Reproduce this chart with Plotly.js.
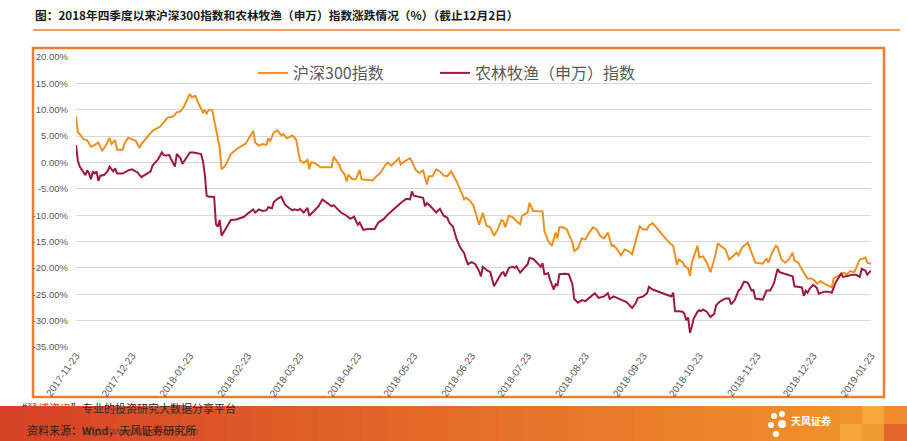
<!DOCTYPE html>
<html>
<head>
<meta charset="utf-8">
<script src="https://cdn.plot.ly/plotly-3.0.1.min.js"></script>
<style>
html,body{margin:0;padding:0;background:#ffffff;}
#chart{width:907px;height:441px;}
</style>
</head>
<body>
<div id="chart"></div>
<script>
// ---------------- DATA ----------------
const seriesNames = ['沪深300指数', '农林牧渔（申万）指数'];

const hsDates = ['2017-11-23','2017-11-24','2017-11-25','2017-11-27','2017-11-29','2017-12-01','2017-12-03','2017-12-05','2017-12-07','2017-12-09','2017-12-11','2017-12-12','2017-12-14','2017-12-15','2017-12-18','2017-12-19','2017-12-21','2017-12-23','2017-12-25','2017-12-27','2017-12-28',
'2018-01-03','2018-01-07','2018-01-09','2018-01-11','2018-01-14','2018-01-16','2018-01-18','2018-01-20','2018-01-23','2018-01-24','2018-01-26','2018-01-27','2018-01-30','2018-01-31',
'2018-02-01','2018-02-02','2018-02-04','2018-02-07','2018-02-08','2018-02-09','2018-02-11','2018-02-14','2018-02-17','2018-02-22','2018-02-26','2018-02-27',
'2018-03-01','2018-03-03','2018-03-05','2018-03-06','2018-03-07','2018-03-09','2018-03-11','2018-03-13','2018-03-14','2018-03-16','2018-03-17','2018-03-19','2018-03-21','2018-03-23','2018-03-25','2018-03-27','2018-03-28','2018-03-29','2018-03-31',
'2018-04-03','2018-04-09','2018-04-10','2018-04-13','2018-04-14','2018-04-16','2018-04-17','2018-04-18','2018-04-20','2018-04-22','2018-04-24','2018-04-25',
'2018-05-01','2018-05-03','2018-05-05','2018-05-08','2018-05-09','2018-05-11','2018-05-15','2018-05-16','2018-05-18','2018-05-21','2018-05-22','2018-05-24','2018-05-26','2018-05-28','2018-05-30','2018-05-31',
'2018-06-02','2018-06-04','2018-06-06','2018-06-08','2018-06-10','2018-06-12','2018-06-15','2018-06-18','2018-06-19','2018-06-20','2018-06-22','2018-06-24','2018-06-27','2018-06-29',
'2018-07-01','2018-07-03','2018-07-05','2018-07-07','2018-07-09','2018-07-10','2018-07-11','2018-07-13','2018-07-15','2018-07-17','2018-07-19','2018-07-20','2018-07-23','2018-07-24','2018-07-26','2018-07-31',
'2018-08-01','2018-08-03','2018-08-05','2018-08-07','2018-08-08','2018-08-09','2018-08-11','2018-08-13','2018-08-15','2018-08-16','2018-08-17','2018-08-19','2018-08-21','2018-08-23','2018-08-25','2018-08-27','2018-08-29','2018-08-31',
'2018-09-02','2018-09-04','2018-09-06','2018-09-07','2018-09-09','2018-09-11','2018-09-13','2018-09-15','2018-09-17','2018-09-19','2018-09-21','2018-09-23','2018-09-25','2018-09-26','2018-09-28',
'2018-10-07','2018-10-09','2018-10-11','2018-10-12','2018-10-14','2018-10-15','2018-10-17','2018-10-18','2018-10-19','2018-10-20','2018-10-22','2018-10-23','2018-10-25','2018-10-27','2018-10-29','2018-10-30','2018-10-31',
'2018-11-02','2018-11-03','2018-11-06','2018-11-08','2018-11-10','2018-11-12','2018-11-13','2018-11-15','2018-11-17','2018-11-18','2018-11-20','2018-11-22','2018-11-26','2018-11-28','2018-11-29',
'2018-12-01','2018-12-03','2018-12-04','2018-12-06','2018-12-08','2018-12-10','2018-12-12','2018-12-13','2018-12-15','2018-12-17','2018-12-19','2018-12-20','2018-12-22','2018-12-24','2018-12-25','2018-12-27','2018-12-28','2018-12-30',
'2019-01-01','2019-01-02','2019-01-03','2019-01-05','2019-01-06','2019-01-08','2019-01-10','2019-01-12','2019-01-14','2019-01-15','2019-01-17','2019-01-19','2019-01-20','2019-01-21','2019-01-23'];

const hsValues = [8.8,5.7,5.4,4.4,4.2,3.0,3.3,3.8,2.2,3.2,4.7,3.5,4.2,2.4,2.4,3.6,4.7,4.4,4.1,2.8,3.5,
6.0,6.8,7.6,8.5,8.7,9.5,9.7,10.7,13.0,12.4,12.6,11.7,9.5,9.9,
9.3,9.9,9.9,4.1,2.8,-1.3,-0.6,1.6,2.5,3.6,6.0,3.8,
3.2,3.5,3.3,4.6,4.0,5.7,6.1,5.1,5.4,4.6,4.8,5.1,4.3,0.4,-0.1,0.5,-1.3,0.0,-0.1,
-0.9,-0.9,1.1,-0.4,-1.4,-2.3,-3.6,-2.3,-3.2,-3.2,-1.4,-3.2,
-3.4,-2.6,-2.0,-0.4,0.0,-0.6,0.8,-0.4,0.2,0.8,0.2,-1.4,-2.0,-1.5,-4.2,-2.6,
-2.6,-1.3,-1.7,-2.5,-2.6,-1.7,-3.6,-6.1,-7.0,-6.7,-7.2,-8.2,-11.8,-9.6,
-12.0,-12.3,-13.9,-12.7,-10.9,-11.1,-12.3,-10.1,-10.4,-11.1,-11.7,-10.1,-9.5,-7.7,-9.2,-9.3,
-13.0,-14.9,-15.8,-13.3,-14.4,-12.3,-12.3,-12.7,-14.2,-15.2,-16.8,-16.3,-14.4,-14.6,-13.3,-12.3,-12.7,-14.0,
-14.4,-13.3,-15.8,-15.7,-16.5,-17.6,-16.5,-16.8,-17.4,-14.6,-12.1,-12.7,-12.7,-12.0,-11.5,
-15.3,-15.8,-19.4,-18.4,-18.9,-19.6,-20.1,-21.5,-19.0,-18.0,-15.8,-18.0,-17.8,-19.0,-20.8,-19.6,-18.4,
-15.3,-15.7,-16.5,-18.4,-17.8,-17.1,-17.6,-16.1,-15.5,-15.2,-17.1,-19.0,-19.2,-18.2,-19.0,
-17.1,-15.8,-16.1,-18.4,-19.0,-18.4,-17.1,-18.6,-19.0,-20.3,-21.4,-22.0,-22.0,-22.5,-23.0,-22.5,-22.8,-23.1,
-23.4,-23.7,-22.0,-21.7,-21.4,-20.9,-21.2,-20.6,-20.8,-20.1,-18.4,-18.2,-18.0,-19.0,-19.2];

const nlDates = ['2017-11-23','2017-11-24','2017-11-25','2017-11-27','2017-11-28','2017-11-29','2017-11-30','2017-12-01','2017-12-02','2017-12-03','2017-12-04','2017-12-05','2017-12-06','2017-12-08','2017-12-10','2017-12-11','2017-12-13','2017-12-14','2017-12-15','2017-12-18','2017-12-21','2017-12-23','2017-12-25','2017-12-26','2017-12-28','2017-12-30',
'2018-01-02','2018-01-03','2018-01-06','2018-01-08','2018-01-09','2018-01-10','2018-01-12','2018-01-13','2018-01-15','2018-01-16','2018-01-18','2018-01-19','2018-01-20','2018-01-23','2018-01-25','2018-01-27','2018-01-29','2018-01-30','2018-01-31',
'2018-02-01','2018-02-02','2018-02-05','2018-02-06','2018-02-07','2018-02-08','2018-02-09','2018-02-10','2018-02-12','2018-02-13','2018-02-14','2018-02-17','2018-02-21','2018-02-23','2018-02-26','2018-02-27',
'2018-03-01','2018-03-03','2018-03-05','2018-03-06','2018-03-08','2018-03-09','2018-03-11','2018-03-13','2018-03-15','2018-03-17','2018-03-19','2018-03-20','2018-03-22','2018-03-23','2018-03-25','2018-03-27','2018-03-28','2018-03-30',
'2018-04-02','2018-04-04','2018-04-06','2018-04-09','2018-04-10','2018-04-12','2018-04-14','2018-04-17','2018-04-19','2018-04-21','2018-04-23','2018-04-24','2018-04-26','2018-04-28',
'2018-05-02','2018-05-04','2018-05-07','2018-05-09','2018-05-11','2018-05-14','2018-05-17','2018-05-19','2018-05-21','2018-05-22','2018-05-23','2018-05-25','2018-05-28','2018-05-29','2018-05-30',
'2018-06-01','2018-06-03','2018-06-04','2018-06-06','2018-06-08','2018-06-10','2018-06-11','2018-06-13','2018-06-15','2018-06-17','2018-06-19','2018-06-20','2018-06-21','2018-06-23','2018-06-25','2018-06-27','2018-06-28','2018-06-29',
'2018-07-01','2018-07-03','2018-07-05','2018-07-07','2018-07-09','2018-07-10','2018-07-11','2018-07-13','2018-07-15','2018-07-16','2018-07-17','2018-07-19','2018-07-21','2018-07-23','2018-07-24','2018-07-26','2018-07-28','2018-07-30','2018-07-31',
'2018-08-01','2018-08-03','2018-08-04','2018-08-06','2018-08-07','2018-08-08','2018-08-09','2018-08-12','2018-08-14','2018-08-16','2018-08-17','2018-08-19','2018-08-21','2018-08-23','2018-08-26','2018-08-28','2018-08-30',
'2018-09-02','2018-09-04','2018-09-05','2018-09-07','2018-09-09','2018-09-11','2018-09-14','2018-09-17','2018-09-19','2018-09-20','2018-09-23','2018-09-25','2018-09-26','2018-09-28',
'2018-10-03','2018-10-08','2018-10-09','2018-10-10','2018-10-12','2018-10-14','2018-10-15','2018-10-16','2018-10-17','2018-10-18','2018-10-19','2018-10-20','2018-10-22','2018-10-23','2018-10-24','2018-10-25','2018-10-27','2018-10-29','2018-10-31',
'2018-11-01','2018-11-03','2018-11-06','2018-11-08','2018-11-09','2018-11-11','2018-11-13','2018-11-14','2018-11-16','2018-11-18','2018-11-20','2018-11-21','2018-11-22','2018-11-26','2018-11-27','2018-11-28','2018-11-30',
'2018-12-02','2018-12-03','2018-12-04','2018-12-05','2018-12-09','2018-12-12','2018-12-13','2018-12-17','2018-12-18','2018-12-19','2018-12-20','2018-12-21','2018-12-23','2018-12-25','2018-12-26','2018-12-29','2018-12-31',
'2019-01-02','2019-01-04','2019-01-06','2019-01-07','2019-01-08','2019-01-10','2019-01-13','2019-01-15','2019-01-17','2019-01-18','2019-01-20','2019-01-21','2019-01-23'];

const nlValues = [3.3,0.3,-0.8,-1.9,-2.4,-1.5,-2.1,-3.2,-1.7,-2.1,-1.7,-3.5,-2.5,-2.4,-1.6,-0.8,-1.7,-1.1,-2.1,-2.1,-1.5,-1.3,-1.7,-1.9,-2.8,-2.4,
-1.7,-0.6,0.6,1.9,1.4,1.3,1.4,0.6,-0.8,1.6,0.8,-0.3,0.2,1.9,1.9,1.8,1.6,0.3,-2.2,
-6.3,-6.5,-6.5,-11.7,-12.2,-10.9,-13.9,-13.3,-12.2,-11.7,-10.9,-10.8,-10.3,-9.7,-8.9,-9.5,
-8.9,-9.2,-9.1,-8.5,-8.7,-7.5,-6.9,-6.5,-8.0,-8.6,-9.1,-8.9,-9.1,-8.8,-9.5,-8.6,-10.1,-9.4,
-8.3,-7.0,-7.5,-8.3,-8.1,-8.9,-9.5,-10.1,-10.7,-10.3,-11.8,-11.4,-12.8,-12.6,
-12.6,-11.4,-10.7,-9.9,-9.2,-8.3,-7.4,-6.9,-7.0,-5.5,-6.3,-6.5,-6.7,-8.3,-7.7,
-8.3,-9.2,-9.5,-8.8,-10.1,-10.5,-11.4,-12.2,-14.6,-16.2,-17.2,-18.4,-19.3,-18.9,-19.3,-20.6,-21.6,-19.8,
-20.4,-20.8,-23.5,-22.2,-21.0,-20.8,-21.6,-20.0,-19.8,-20.0,-19.7,-20.9,-20.0,-19.3,-18.1,-18.3,-19.0,-19.8,-19.1,
-21.2,-21.0,-22.2,-24.1,-23.1,-23.3,-21.2,-21.1,-21.2,-23.1,-25.9,-26.6,-26.1,-26.3,-25.4,-24.8,-25.7,
-25.4,-24.8,-25.9,-25.4,-25.7,-26.0,-26.5,-27.6,-26.6,-25.7,-25.4,-24.8,-23.6,-24.1,
-24.7,-25.4,-24.7,-28.2,-28.2,-28.3,-28.7,-29.9,-29.4,-32.3,-31.1,-29.6,-28.3,-28.0,-28.2,-27.9,-28.3,-29.3,-28.7,
-27.1,-26.4,-25.8,-25.8,-26.9,-26.1,-24.3,-24.0,-22.6,-22.8,-24.3,-24.2,-25.8,-26.0,-25.1,-24.3,-24.3,
-22.9,-21.5,-20.2,-20.8,-21.3,-21.6,-23.5,-23.7,-25.3,-24.3,-24.7,-24.0,-23.2,-23.8,-24.9,-24.5,-24.5,
-24.7,-22.8,-21.5,-21.1,-21.7,-21.5,-21.3,-21.3,-21.7,-20.2,-20.5,-21.3,-20.5];

const xTickLabels = ['2017-11-23','2017-12-23','2018-01-23','2018-02-23','2018-03-23','2018-04-23','2018-05-23','2018-06-23','2018-07-23','2018-08-23','2018-09-23','2018-10-23','2018-11-23','2018-12-23','2019-01-23'];
const yTickValues = [20,15,10,5,0,-5,-10,-15,-20,-25,-30,-35];

const titleText = '图：2018年四季度以来沪深300指数和农林牧渔（申万）指数涨跌情况（%）（截止12月2日）';
const sloganText = '“<span style="color:#d9402f">慧博资讯</span>”专业的投资研究大数据分享平台';
const sourceText = '资料来源：Wind，天风证券研究所';
const watermarkText = 'http://www.hibor.com.cn';
const logoText = '天风证券';

// ---------------- LAYOUT HELPERS ----------------
const W = 907, H = 441;
const M = {l: 76, r: 36, t: 57, b: 94};
const PW = W - M.l - M.r, PH = H - M.t - M.b;
const px = x => (x - M.l) / PW;
const py = y => (H - M.b - y) / PH;

const CJK = '"Noto Sans CJK SC", "Noto Sans", sans-serif';
const LAT = '"Liberation Sans", Arial, sans-serif';
const ORANGE = '#ED7D31';

const shapes = [];
// banner gradient strips
const bannerTop = 406;
const c0 = [214, 66, 38], c1 = [242, 150, 44];
const nStrips = 40;
for (let i = 0; i < nStrips; i++) {
  const t = i / (nStrips - 1);
  const c = c0.map((v, k) => Math.round(v + (c1[k] - v) * t));
  shapes.push({type: 'rect', xref: 'paper', yref: 'paper', layer: 'below',
    x0: px(i * W / nStrips), x1: px((i + 1) * W / nStrips + 1), y0: py(H + 2), y1: py(bannerTop),
    fillcolor: `rgb(${c[0]},${c[1]},${c[2]})`, line: {width: 0}});
}
// checker blocks at right end of banner
[[862, 406, 884, 424, '#f7a83a'], [884, 406, 907, 424, '#ef8a2e'], [862, 424, 884, 441, '#f09a33'], [884, 424, 907, 441, '#e5652a'], [840, 424, 862, 441, '#f4a63a']]
  .forEach(b => shapes.push({type: 'rect', xref: 'paper', yref: 'paper', layer: 'below',
    x0: px(b[0]), x1: px(b[2]), y0: py(b[3]), y1: py(b[1]), fillcolor: b[4], line: {width: 0}}));
// logo mark (small white petals)
[[774, 416, 3], [782, 414, 3], [771, 425, 3], [782, 424, 4], [776, 434, 3]].forEach(p =>
  shapes.push({type: 'circle', xref: 'paper', yref: 'paper', x0: px(p[0] - p[2]), x1: px(p[0] + p[2]),
    y0: py(p[1] + p[2]), y1: py(p[1] - p[2]), fillcolor: '#ffffff', line: {width: 0}}));
// title underline
shapes.push({type: 'line', xref: 'paper', yref: 'paper', layer: 'below', x0: px(33), x1: px(900), y0: py(30), y1: py(30),
  line: {color: ORANGE, width: 1.5}});
// chart frame (below, so tick labels stay readable)
shapes.push({type: 'rect', xref: 'paper', yref: 'paper', layer: 'below', x0: px(33), x1: px(884), y0: py(397), y1: py(48),
  line: {color: ORANGE, width: 2.5}, fillcolor: 'rgba(0,0,0,0)'});

const annotations = [
  {text: sloganText, xref: 'paper', yref: 'paper', x: px(14), y: py(408), xanchor: 'left', yanchor: 'middle',
    showarrow: false, font: {family: CJK, size: 11, color: '#2b2b2b'}},
  {text: sourceText, xref: 'paper', yref: 'paper', x: px(25), y: py(430), xanchor: 'left', yanchor: 'middle',
    showarrow: false, font: {family: CJK, size: 11, color: '#222222'}},
  {text: watermarkText, xref: 'paper', yref: 'paper', x: px(80), y: py(431), xanchor: 'left', yanchor: 'middle',
    showarrow: false, font: {family: LAT, size: 11, color: 'rgba(40,40,40,0.6)'}},
  {text: '<b>' + logoText + '</b>', xref: 'paper', yref: 'paper', x: px(789), y: py(420), xanchor: 'left', yanchor: 'middle',
    showarrow: false, font: {family: CJK, size: 10, color: '#ffffff'}}
];

const traces = [
  {type: 'scatter', mode: 'lines', name: seriesNames[0], x: hsDates, y: hsValues,
    line: {color: '#EE9020', width: 2}, legend: 'legend'},
  {type: 'scatter', mode: 'lines', name: seriesNames[1], x: nlDates, y: nlValues,
    line: {color: '#9C1A3D', width: 2}, legend: 'legend2'}
];

const legendBase = {orientation: 'h', xanchor: 'left', y: py(73), yanchor: 'middle',
  font: {family: CJK, size: 16, color: '#595959'}, bgcolor: 'rgba(0,0,0,0)', itemwidth: 30};

const layout = {
  width: W, height: H,
  margin: M,
  paper_bgcolor: '#ffffff', plot_bgcolor: '#ffffff',
  title: {text: titleText, xref: 'container', yref: 'container', x: 35 / W, xanchor: 'left',
    y: 1 - 16 / H, yanchor: 'middle', font: {family: CJK, size: 11.7, color: '#1a1a1a', weight: 'bold'}},
  showlegend: true,
  legend: Object.assign({}, legendBase, {x: px(253)}),
  legend2: Object.assign({}, legendBase, {x: px(435)}),
  xaxis: {type: 'date', range: [xTickLabels[0], xTickLabels[xTickLabels.length - 1]],
    tickvals: xTickLabels, ticktext: xTickLabels, tickangle: -55,
    showgrid: false, zeroline: false, showline: false, ticks: '',
    tickfont: {family: LAT, size: 10, color: '#595959'}},
  yaxis: {range: [-35, 20], tickvals: yTickValues, ticktext: yTickValues.map(v => v.toFixed(2) + '%'),
    showgrid: true, gridcolor: '#D9D9D9', gridwidth: 1, zeroline: false, showline: false, ticks: '',
    ticklabelstandoff: 7, tickfont: {family: LAT, size: 9.5, color: '#595959'}},
  shapes: shapes,
  annotations: annotations,
  hovermode: false
};

Plotly.newPlot('chart', traces, layout, {displayModeBar: false, staticPlot: true});
</script>
</body>
</html>
